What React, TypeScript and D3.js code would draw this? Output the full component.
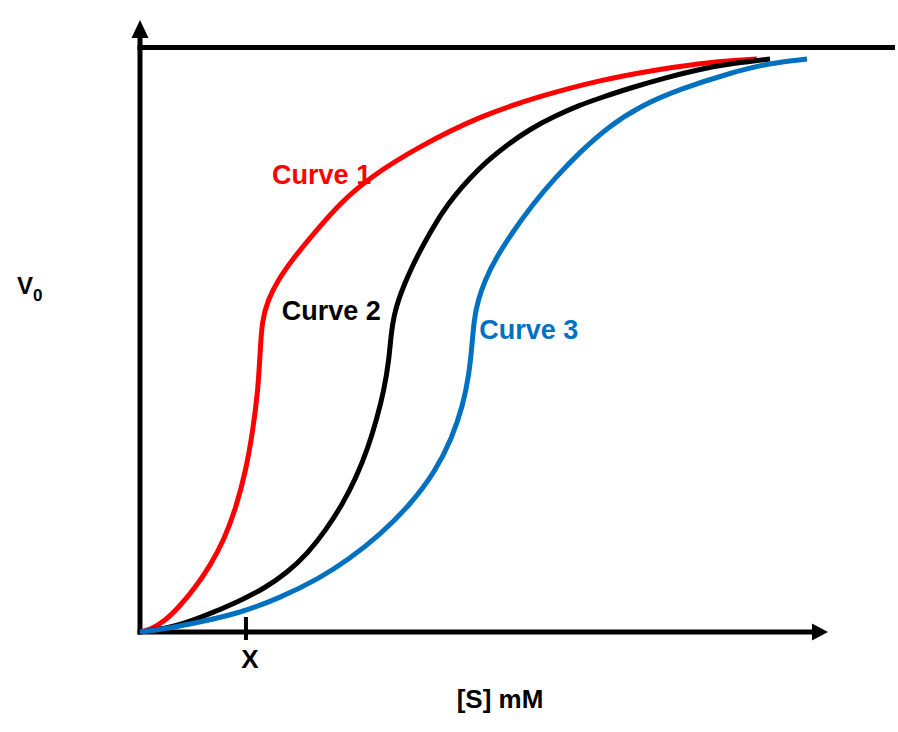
import React from "react";
import * as d3 from "d3";

const curve1: [number, number][] = [[0,0],[1.45,0.34],[3.63,1.88],[5.81,4.45],[7.99,7.53],[10.17,11.29],[12.21,15.74],[13.95,21.21],[15.41,27.72],[16.42,34.56],[17.15,41.40],[17.44,47.39],[17.73,53.38],[18.60,56.80],[20.06,60.22],[22.09,63.64],[24.71,67.41],[29.07,73.40],[33.43,77.84],[40.70,83.15],[49.42,88.28],[58.14,91.70],[66.86,94.44],[75.58,96.32],[82.85,97.52],[89.68,98.03]];
const curve2: [number, number][] = [[0,0],[4.36,0.68],[8.72,2.40],[14.53,5.30],[18.17,7.53],[21.51,10.27],[24.42,13.52],[27.03,17.45],[29.36,21.73],[31.40,26.35],[33.14,31.48],[34.45,36.61],[35.47,41.40],[36.19,46.54],[36.48,50.81],[36.92,54.23],[37.65,57.14],[38.52,59.71],[39.53,62.45],[40.70,65.18],[42.15,68.26],[43.75,71.51],[45.78,74.76],[47.97,77.67],[50.44,80.58],[53.34,83.32],[56.69,86.06],[60.32,88.28],[63.95,90.16],[66.86,91.36],[71.22,93.07],[76.31,94.78],[81.40,96.32],[86.48,97.35],[91.57,98.03]];
const curve3: [number, number][] = [[0,0],[4.36,0.68],[8.72,1.71],[14.53,3.25],[20.35,5.82],[26.16,9.24],[30.23,12.32],[34.88,16.60],[39.24,21.73],[42.88,27.37],[45.35,33.19],[46.95,38.84],[47.82,43.97],[48.26,49.10],[48.55,53.38],[49.13,56.80],[50.15,60.22],[51.74,63.99],[54.07,68.26],[56.98,73.05],[60.32,77.67],[63.95,82.12],[68.02,86.40],[72.67,89.99],[78.49,92.90],[85.76,95.64],[91.57,97.35],[96.95,98.03]];

const seriesNames = ["Curve 1", "Curve 2", "Curve 3"];
const seriesColors = ["#ff0000", "#000000", "#0070c0"];
const labelPos: [number, number][] = [[19.2, 76.6], [20.6, 53.4], [49.3, 50.1]];
const xTickValue = 15.4;
const xTickLabel = "X";
const vmax = 100;

export default function App() {
  const W = 898, H = 732;
  const x = d3.scaleLinear().domain([0, 100]).range([140, 828]);
  const y = d3.scaleLinear().domain([0, 100]).range([632, 47.5]);
  const line = d3.line<[number, number]>()
    .x(d => x(d[0]))
    .y(d => y(d[1]))
    .curve(d3.curveBasis);
  const data = [curve1, curve2, curve3];
  const font = "'Liberation Sans', Arial, Helvetica, sans-serif";
  const x0 = x(0), y0 = y(0);
  return (
    <svg width={W} height={H} style={{ position: "absolute", left: 0, top: 0, background: "#fff" }}>
      <line x1={x0 - 2.5} x2={895} y1={y(vmax)} y2={y(vmax)} stroke="#000" strokeWidth={5} />
      <line x1={x0} x2={x0} y1={y0 + 2.5} y2={36} stroke="#000" strokeWidth={5} />
      <path d={`M${x0 - 8.5},38 L${x0},20 L${x0 + 8.5},38 Z`} fill="#000" />
      <line x1={x0 - 2.5} x2={814} y1={y0} y2={y0} stroke="#000" strokeWidth={5} />
      <path d={`M812,${y0 - 8.5} L828,${y0} L812,${y0 + 8.5} Z`} fill="#000" />
      <line x1={x(xTickValue)} x2={x(xTickValue)} y1={617} y2={640} stroke="#000" strokeWidth={4} />
      <text x={x(xTickValue) + 4} y={668} fontFamily={font} fontWeight="bold" fontSize={26} textAnchor="middle">{xTickLabel}</text>
      {data.map((d, i) => (
        <path key={i} d={line(d) || ""} fill="none" stroke={seriesColors[i]} strokeWidth={5} strokeLinecap="butt" />
      ))}
      {data.map((_, i) => (
        <text key={"l" + i} x={x(labelPos[i][0])} y={y(labelPos[i][1])} fill={seriesColors[i]} fontFamily={font} fontWeight="bold" fontSize={27}>{seriesNames[i]}</text>
      ))}
      <text x={500} y={708} fontFamily={font} fontWeight="bold" fontSize={26} textAnchor="middle">[S] mM</text>
      <text x={17} y={294} fontFamily={font} fontWeight="bold" fontSize={24}>V<tspan fontSize={17} dy={7}>0</tspan></text>
    </svg>
  );
}
